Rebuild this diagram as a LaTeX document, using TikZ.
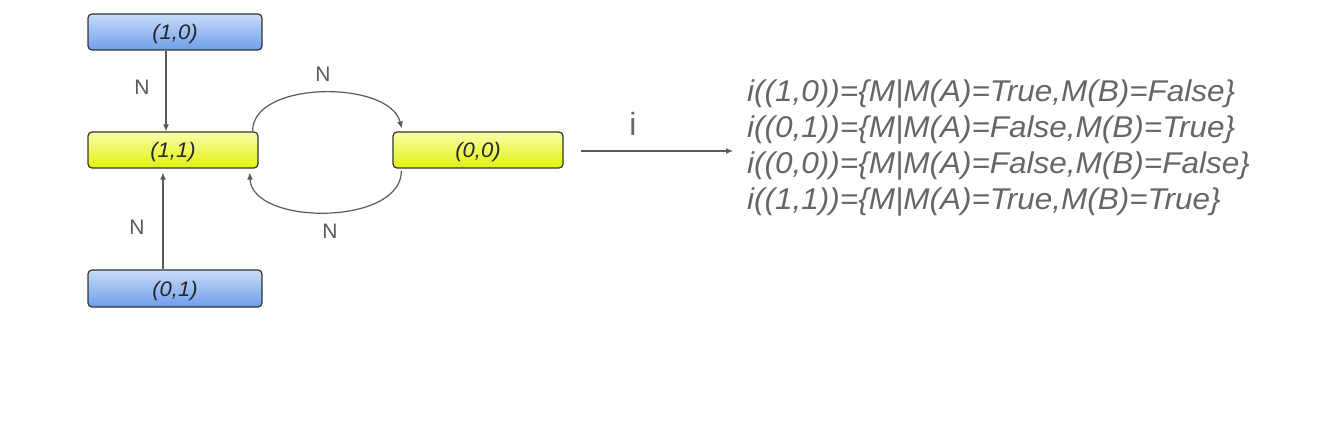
\documentclass[tikz,border=0pt]{standalone}
\usepackage{fontspec}
\setmainfont{Liberation Sans}
\newfontfamily\widesans[FakeStretch=1.05]{Liberation Sans}
\usetikzlibrary{calc,arrows.meta}
\definecolor{bluetop}{HTML}{C9DCF8}
\definecolor{bluebot}{HTML}{6D9EEB}
\definecolor{yeltop}{HTML}{F7FFA8}
\definecolor{yelbot}{HTML}{E2F20E}
\definecolor{edgec}{HTML}{333333}
\definecolor{linec}{HTML}{5A5A5A}
\definecolor{txtc}{HTML}{666666}
\tikzset{
  statebox/.style={draw=edgec, line width=1.2pt, rounded corners=4pt, inner sep=0pt,
    text height=18pt, text depth=3pt,
    font=\widesans\fontsize{21}{24}\selectfont\itshape, text=black!85},
  bluebox/.style={statebox, top color=bluetop, bottom color=bluebot},
  yelbox/.style={statebox, top color=yeltop, bottom color=yelbot},
  arr/.style={draw=linec, line width=1.2pt, -{Latex[length=7pt,width=6pt]}},
  nlabel/.style={text=linec, font=\fontsize{21}{24}\selectfont, inner sep=0pt},
  interp/.style={text=txtc, font=\widesans\fontsize{30}{36}\selectfont\itshape, inner sep=0pt, anchor=base west}
}
\begin{document}
\begin{tikzpicture}[x=1pt,y=-1pt]
\useasboundingbox (0,0) rectangle (1331,436);
\node[bluebox, minimum width=174pt, minimum height=36pt] (b10) at (175,32) {(1,0)};
\node[yelbox, minimum width=170pt, minimum height=36pt] (b11) at (173,150) {(1,1)};
\node[yelbox, minimum width=170pt, minimum height=36pt] (b00) at (478,150) {(0,0)};
\node[bluebox, minimum width=174pt, minimum height=37pt] (b01) at (175,288.5) {(0,1)};

\node[interp] (t1) at (747,101) {i((1,0))=\{M|M(A)=True,M(B)=False\}};
\node[interp] (t2) at (747,137) {i((0,1))=\{M|M(A)=False,M(B)=True\}};
\node[interp] (t3) at (747,173) {i((0,0))=\{M|M(A)=False,M(B)=False\}};
\node[interp] (t4) at (747,209) {i((1,1))=\{M|M(A)=True,M(B)=True\}};

% vertical arrows
\draw[arr] ($(b10.south)+(-9,0)$) -- ($(b11.north)+(-7,0)$);
\draw[arr, shorten >=4pt] ($(b01.north)+(-12,0)$) -- ($(b11.south)+(-10,0)$);
% curved arrows
\draw[arr, shorten >=3pt] ($(b11.north east)+(-6,0)$) .. controls (252,80) and (390,80) .. ($(b00.north west)+(10,0)$);
\draw[arr, shorten >=3pt] ($(b00.south west)+(9,2)$) .. controls (402,226) and (252,226) .. ($(b11.south east)+(-9,1)$);
% i arrow
\coordinate (iend) at (733,151);
\draw[arr, shorten <=17pt] (b00.east |- iend) -- (iend);

\node[nlabel] (n1) at (142,87) {N};
\node[nlabel] (n2) at (137,227) {N};
\node[nlabel] (n3) at (323,74) {N};
\node[nlabel] (n4) at (330,231) {N};
\node[text=txtc, font=\fontsize{32}{36}\selectfont, inner sep=0pt] (ilab) at (633,124) {i};
\end{tikzpicture}
\end{document}
